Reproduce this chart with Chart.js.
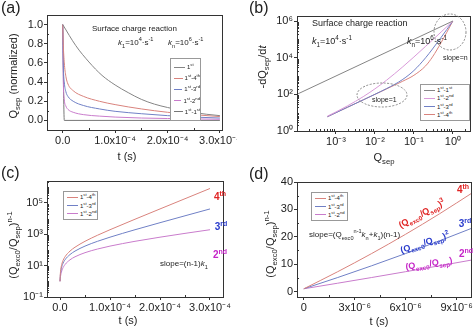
<!DOCTYPE html>
<html>
<head>
<meta charset="utf-8">
<script src="https://cdn.jsdelivr.net/npm/chart.js@4.4.0/dist/chart.umd.min.js"></script>
<style>
  body { margin: 0; background: #fff; }
  #fig { position: relative; width: 474px; height: 330px; overflow: hidden; font-family: "Liberation Sans", Arial, sans-serif; color: #222; }
  canvas { position: absolute; }
  .t { position: absolute; white-space: nowrap; line-height: 1; }
  .c { transform: translate(-50%, -50%); }
  .v { transform: translate(-50%, -50%) rotate(-90deg); }
  .t sub, .t sup { font-size: 70%; line-height: 0; }
  .lab { font-size: 16px; }
  .ax { font-size: 11px; }
  .legend { position: absolute; border: 1px solid #999; background: #fff; box-sizing: border-box; display: flex; flex-direction: column; justify-content: space-evenly; font-size: 6px; }
  .legend .row { display: flex; align-items: center; line-height: 1; }
  .legend .ln { display: inline-block; width: 11px; border-top: 1px solid; margin: 0 2px 0 3px; }
  .legend sup { font-size: 70%; line-height: 0; }
  svg { position: absolute; left: 0; top: 0; }
</style>
</head>
<body>
<div id="fig">
  <canvas id="ca" width="237" height="165" style="left:0;top:0"></canvas>
  <canvas id="cb" width="237" height="165" style="left:237px;top:0"></canvas>
  <canvas id="cc" width="237" height="165" style="left:0;top:165px"></canvas>
  <canvas id="cd" width="237" height="165" style="left:237px;top:165px"></canvas>

  <svg width="474" height="330">
    <ellipse cx="450" cy="32" rx="16" ry="18" fill="none" stroke="#888" stroke-width="1" stroke-dasharray="2 1.5"/>
    <ellipse cx="382" cy="95" rx="25" ry="12" fill="none" stroke="#888" stroke-width="1" stroke-dasharray="2 1.5"/>
  </svg>

  <!-- panel (a) -->
  <div class="t lab" style="left:1px;top:0">(a)</div>
  <div class="t" style="left:92px;top:25px;font-size:8px">Surface charge reaction</div>
  <div class="t" style="left:118px;top:39px;font-size:8px"><i>k</i><sub>1</sub>=10<sup>4</sup>·s<sup>-1</sup></div>
  <div class="t" style="left:168px;top:39px;font-size:8px"><i>k</i><sub>n</sub>=10<sup>6</sup>·s<sup>-1</sup></div>
  <div class="t ax v" style="left:13px;top:76px">Q<sub>sep</sub> (normalized)</div>
  <div class="t ax c" style="left:127px;top:156px">t (s)</div>

  <!-- panel (b) -->
  <div class="t lab" style="left:249px;top:0">(b)</div>
  <div class="t" style="left:312px;top:19px;font-size:9px">Surface charge reaction</div>
  <div class="t" style="left:312px;top:37px;font-size:9px"><i>k</i><sub>1</sub>=10<sup>4</sup>·s<sup>-1</sup></div>
  <div class="t" style="left:407px;top:37px;font-size:9px"><i>k</i><sub>n</sub>=10<sup>6</sup>·s<sup>-1</sup></div>
  <div class="t" style="left:443px;top:54px;font-size:7px">slope=n</div>
  <div class="t" style="left:372px;top:96px;font-size:7px">slope=1</div>
  <div class="t ax v" style="left:262px;top:67px">-dQ<sub>sep</sub>/d<i>t</i></div>
  <div class="t ax c" style="left:384px;top:157px">Q<sub>sep</sub></div>

  <!-- panel (c) -->
  <div class="t lab" style="left:1px;top:165px">(c)</div>
  <div class="t ax v" style="left:13px;top:245px">(Q<sub>exc0</sub>/Q<sub>sep</sub>)<sup>n-1</sup></div>
  <div class="t ax c" style="left:128px;top:320px">t (s)</div>
  <div class="t c" style="left:220px;top:197px;font-size:10px;font-weight:bold;color:#e02424">4<sup>th</sup></div>
  <div class="t c" style="left:221px;top:227px;font-size:10px;font-weight:bold;color:#2a3ccc">3<sup>rd</sup></div>
  <div class="t c" style="left:220px;top:255px;font-size:10px;font-weight:bold;color:#c526c8">2<sup>nd</sup></div>
  <div class="t" style="left:160px;top:260px;font-size:8px">slope=(n-1)<i>k</i><sub>1</sub></div>

  <!-- panel (d) -->
  <div class="t lab" style="left:249px;top:166px">(d)</div>
  <div class="t ax v" style="left:270px;top:244px">(Q<sub>exc0</sub>/Q<sub>sep</sub>)<sup>n-1</sup></div>
  <div class="t ax c" style="left:379px;top:321px">t (s)</div>
  <div class="t" style="left:309px;top:231px;font-size:8px">slope=(Q<sub>exc0</sub><sup>n-1</sup><i>k</i><sub>n</sub>+<i>k</i><sub>1</sub>)(n-1)</div>
  <div class="t c" style="left:463px;top:190px;font-size:10px;font-weight:bold;color:#e02424">4<sup>th</sup></div>
  <div class="t c" style="left:465px;top:224px;font-size:10px;font-weight:bold;color:#2a3ccc">3<sup>rd</sup></div>
  <div class="t c" style="left:466px;top:254px;font-size:10px;font-weight:bold;color:#c526c8">2<sup>nd</sup></div>
  <div class="t c" style="left:422px;top:214px;font-size:9px;font-weight:bold;color:#e02424;transform:translate(-50%,-50%) rotate(-28deg)">(Q<sub>exc0</sub>/Q<sub>sep</sub>)<sup>3</sup></div>
  <div class="t c" style="left:425px;top:243px;font-size:9px;font-weight:bold;color:#2a3ccc;transform:translate(-50%,-50%) rotate(-18deg)">(Q<sub>exc0</sub>/Q<sub>sep</sub>)<sup>2</sup></div>
  <div class="t c" style="left:429px;top:264px;font-size:9px;font-weight:bold;color:#c526c8;transform:translate(-50%,-50%) rotate(-8deg)">(Q<sub>exc0</sub>/Q<sub>sep</sub>)</div>

  <div class="legend" id="lega" style="left:170px;top:58px;width:31px;height:63px"></div>
  <div class="legend" id="legb" style="left:420px;top:84px;width:50px;height:37px"></div>
  <div class="legend" id="legc" style="left:63px;top:191px;width:35px;height:29px"></div>
  <div class="legend" id="legd" style="left:311px;top:192px;width:37px;height:29px"></div>
</div>

<script>
// ---- data ----
// (a) Q_sep (normalized) vs t (s)
const tA = [0, 0.01e-4, 0.03e-4, 0.06e-4, 0.1e-4, 0.2e-4, 0.4e-4, 0.7e-4, 1.0e-4, 1.5e-4, 2.0e-4, 2.5e-4, 3.0e-4];
const qA4 = [1.0, 0.80, 0.60, 0.46, 0.38, 0.31, 0.25, 0.20, 0.165, 0.12, 0.085, 0.06, 0.04];
const qA3 = [1.0, 0.60, 0.40, 0.30, 0.25, 0.20, 0.155, 0.12, 0.095, 0.07, 0.05, 0.035, 0.025];
const qA2 = [1.0, 0.45, 0.22, 0.15, 0.115, 0.085, 0.06, 0.045, 0.035, 0.025, 0.02, 0.016, 0.012];
const tA1 = [0, 0.25e-4, 0.5e-4, 0.75e-4, 1.0e-4, 1.25e-4, 1.5e-4, 1.75e-4, 2.0e-4, 2.25e-4, 2.5e-4, 2.75e-4, 3.0e-4];
const qA1 = [1.0, 0.78, 0.61, 0.47, 0.37, 0.29, 0.22, 0.17, 0.135, 0.105, 0.082, 0.064, 0.05];
const tA11 = [0, 0.03e-4, 3.0e-4];
const qA11 = [1.0, 0.0, 0.0];

// (b) -dQ/dt vs Q_sep
const qB = [6e-4, 1e-3, 2e-3, 5e-3, 1e-2, 2e-2, 5e-2, 0.1, 0.2, 0.3, 0.5, 0.7, 1.0];
const rB2 = [6.4, 11, 24, 75, 200, 600, 3000, 11000, 42000, 93000, 255000, 497000, 1.01e6];
const rB3 = [6, 10, 20, 50, 101, 208, 625, 2000, 10000, 30000, 130000, 350000, 1.01e6];
const rB4 = [6, 10, 20, 50, 100, 200, 506, 1100, 3600, 11100, 67500, 247100, 1.01e6];
const qB1 = [1e-4, 1.0];
const rB1 = [101, 1.01e6];

// (c) (Qexc0/Qsep)^(n-1) vs t, long time
const tC = [0, 0.005e-4, 0.01e-4, 0.02e-4, 0.05e-4, 0.1e-4, 0.2e-4, 0.3e-4, 0.5e-4, 0.75e-4, 1.0e-4, 1.5e-4, 2.0e-4, 2.5e-4, 3.0e-4];
const uC2 = [1, 1.506, 2.015, 3.04, 6.18, 11.62, 23.36, 36.34, 66.5, 113.8, 174.5, 352.7, 646.3, 1130, 1929];
const uC3 = [1, 2.015, 3.04, 5.12, 11.62, 23.36, 50.7, 84.0, 174.5, 352.7, 646.3, 1929, 5414, 14890, 40646];
const uC4 = [1, 2.527, 4.076, 7.25, 17.35, 36.34, 84.0, 148.4, 352.7, 858.3, 1929, 8992, 40646, 182512, 818311];

// (d) same, short time
const tD = [0, 2e-6, 4e-6, 6e-6, 8e-6, 10e-6];
const uD2 = [1, 3.04, 5.12, 7.25, 9.41, 11.62];
const uD3 = [1, 5.12, 9.41, 13.88, 18.52, 23.36];
const uD4 = [1, 7.25, 13.88, 20.92, 28.40, 36.34];

// tick values / labels
const xTicksA = [0, 1e-4, 2e-4, 3e-4];
const xLabelsA = ['0.0', '1.0x10⁻⁴', '2.0x10⁻⁴', '3.0x10⁻⁴'];
const yTicksA = [0, 0.2, 0.4, 0.6, 0.8, 1.0];
const yLabelsA = ['0.0', '0.2', '0.4', '0.6', '0.8', '1.0'];
const xTicksB = [1e-3, 1e-2, 1e-1, 1];
const xLabelsB = ['10⁻³', '10⁻²', '10⁻¹', '10⁰'];
const yTicksB = [1, 1e2, 1e4, 1e6];
const yLabelsB = ['10⁰', '10²', '10⁴', '10⁶'];
const yTicksC = [0.1, 10, 1e3, 1e5];
const yLabelsC = ['10⁻¹', '10¹', '10³', '10⁵'];
const xTicksD = [0, 3e-6, 6e-6, 9e-6];
const xLabelsD = ['0', '3x10⁻⁶', '6x10⁻⁶', '9x10⁻⁶'];
const yTicksD = [0, 10, 20, 30, 40];
const yLabelsD = ['0', '10', '20', '30', '40'];

// colours
const GRAY = '#858585', RED = '#d9837d', BLUE = '#7080c6', PINK = '#c97ccc', PINK_B = '#d99ad9';

const W = 237, H = 165;
Chart.defaults.font.family = '"Liberation Sans", Arial, sans-serif';
Chart.defaults.color = '#222';

// frame box + small minor ticks, Origin style
const framePlugin = {
    id: 'frame',
    afterDraw(chart) {
        const ctx = chart.ctx;
        const a = chart.chartArea;
        ctx.save();
        ctx.strokeStyle = '#333';
        ctx.lineWidth = 1;
        ['x', 'y'].forEach(k => {
            const sc = chart.scales[k];
            const major = sc.ticks.map(t => t.value);
            let minor = [];
            if (sc.type === 'logarithmic') {
                const d0 = Math.floor(Math.log10(sc.min)), d1 = Math.ceil(Math.log10(sc.max));
                for (let d = d0; d <= d1; d++) {
                    for (let m = 1; m <= 9; m++) {
                        const v = m * Math.pow(10, d);
                        if (m === 1 && major.some(mv => Math.abs(Math.log10(mv) - d) < 1e-6)) continue;
                        minor.push(v);
                    }
                }
            } else {
                const step = major[1] - major[0];
                for (let v = major[0] - step / 2; v <= sc.max; v += step) minor.push(v);
            }
            minor.forEach(v => {
                if (v < sc.min || v > sc.max) return;
                const p = Math.round(sc.getPixelForValue(v)) + 0.5;
                ctx.beginPath();
                if (k === 'x') { ctx.moveTo(p, a.bottom); ctx.lineTo(p, a.bottom - 2); }
                else { ctx.moveTo(a.left, p); ctx.lineTo(a.left + 2, p); }
                ctx.stroke();
            });
        });
        ctx.strokeRect(Math.round(a.left) + 0.5, Math.round(a.top) + 0.5, Math.round(a.right - a.left), Math.round(a.bottom - a.top));
        ctx.restore();
    }
};

function axis(type, min, max, vals, labels, fitFn) {
    return {
        type, min, max,
        afterBuildTicks: s => { s.ticks = vals.map(v => ({ value: v })); },
        afterFit: s => {
            fitFn(s);
            s.paddingLeft = 0; s.paddingRight = 0; s.paddingTop = 0; s.paddingBottom = 0;
        },
        ticks: {
            callback: (v, i) => labels[i],
            autoSkip: false, maxRotation: 0, padding: 1,
            font: { size: 11 }, color: '#222'
        },
        grid: { drawOnChartArea: false, tickLength: 3, color: '#333' },
        border: { color: '#333' }
    };
}

function series(xs, ys, color) {
    return {
        data: xs.map((x, i) => ({ x, y: ys[i] })),
        borderColor: color, borderWidth: 1, pointRadius: 0, fill: false,
        cubicInterpolationMode: 'monotone'
    };
}

function makeChart(id, area, xAxis, yAxis, datasets) {
    xAxis.afterFitFn = null;
    return new Chart(document.getElementById(id), {
        type: 'line',
        data: { datasets },
        options: {
            responsive: false, animation: false,
            layout: { padding: { left: 0, top: area.t, right: W - area.r, bottom: 0 } },
            plugins: { legend: { display: false }, tooltip: { enabled: false } },
            scales: { x: xAxis, y: yAxis }
        },
        plugins: [framePlugin]
    });
}

// (a)
const areaA = { l: 47, t: 15, r: 222, b: 130 };
makeChart('ca', areaA,
    axis('linear', -0.3e-4, 3.04e-4, xTicksA, xLabelsA, s => { s.height = H - areaA.b; }),
    axis('linear', -0.1, 1.1, yTicksA, yLabelsA, s => { s.width = areaA.l; }),
    [series(tA1, qA1, GRAY), series(tA, qA4, RED), series(tA, qA3, BLUE), series(tA, qA2, PINK), series(tA11, qA11, '#777')]);

// (b)
const areaB = { l: 60, t: 16, r: 233, b: 131 };
makeChart('cb', areaB,
    axis('logarithmic', 1e-4, 2.75, xTicksB, xLabelsB, s => { s.height = H - areaB.b; }),
    axis('logarithmic', 1, 1.9e6, yTicksB, yLabelsB, s => { s.width = areaB.l; }),
    [series(qB1, rB1, GRAY), series(qB, rB2, PINK_B), series(qB, rB3, BLUE), series(qB, rB4, RED)]);

// (c)
const areaC = { l: 47, t: 16, r: 223, b: 132 };
makeChart('cc', areaC,
    axis('linear', -0.26e-4, 3.26e-4, xTicksA, xLabelsA, s => { s.height = H - areaC.b; }),
    axis('logarithmic', 0.1, 2.45e6, yTicksC, yLabelsC, s => { s.width = areaC.l; }),
    [series(tC, uC4, RED), series(tC, uC3, BLUE), series(tC, uC2, PINK)]);

// (d)
const areaD = { l: 60, t: 17, r: 234, b: 132 };
makeChart('cd', areaD,
    axis('linear', -0.4e-6, 9.85e-6, xTicksD, xLabelsD, s => { s.height = H - areaD.b; }),
    axis('linear', -2, 40, yTicksD, yLabelsD, s => { s.width = areaD.l; }),
    [series(tD, uD4, RED), series(tD, uD3, BLUE), series(tD, uD2, PINK)]);

// legends (HTML, so superscripts render properly)
const legendA = [['1<sup>st</sup>', GRAY], ['1<sup>st</sup>-4<sup>th</sup>', RED], ['1<sup>st</sup>-3<sup>rd</sup>', BLUE], ['1<sup>st</sup>-2<sup>nd</sup>', PINK], ['1<sup>st</sup>-1<sup>st</sup>', '#777']];
const legendB = [['1<sup>st</sup>-1<sup>st</sup>', GRAY], ['1<sup>st</sup>-2<sup>nd</sup>', PINK_B], ['1<sup>st</sup>-3<sup>rd</sup>', BLUE], ['1<sup>st</sup>-4<sup>th</sup>', RED]];
const legendCD = [['1<sup>st</sup>-4<sup>th</sup>', RED], ['1<sup>st</sup>-3<sup>rd</sup>', BLUE], ['1<sup>st</sup>-2<sup>nd</sup>', PINK]];

function fillLegend(id, items) {
    document.getElementById(id).innerHTML = items.map(([name, col]) =>
        `<div class="row"><span class="ln" style="border-color:${col}"></span><span>${name}</span></div>`).join('');
}
fillLegend('lega', legendA);
fillLegend('legb', legendB);
fillLegend('legc', legendCD);
fillLegend('legd', legendCD);
</script>
</body>
</html>
